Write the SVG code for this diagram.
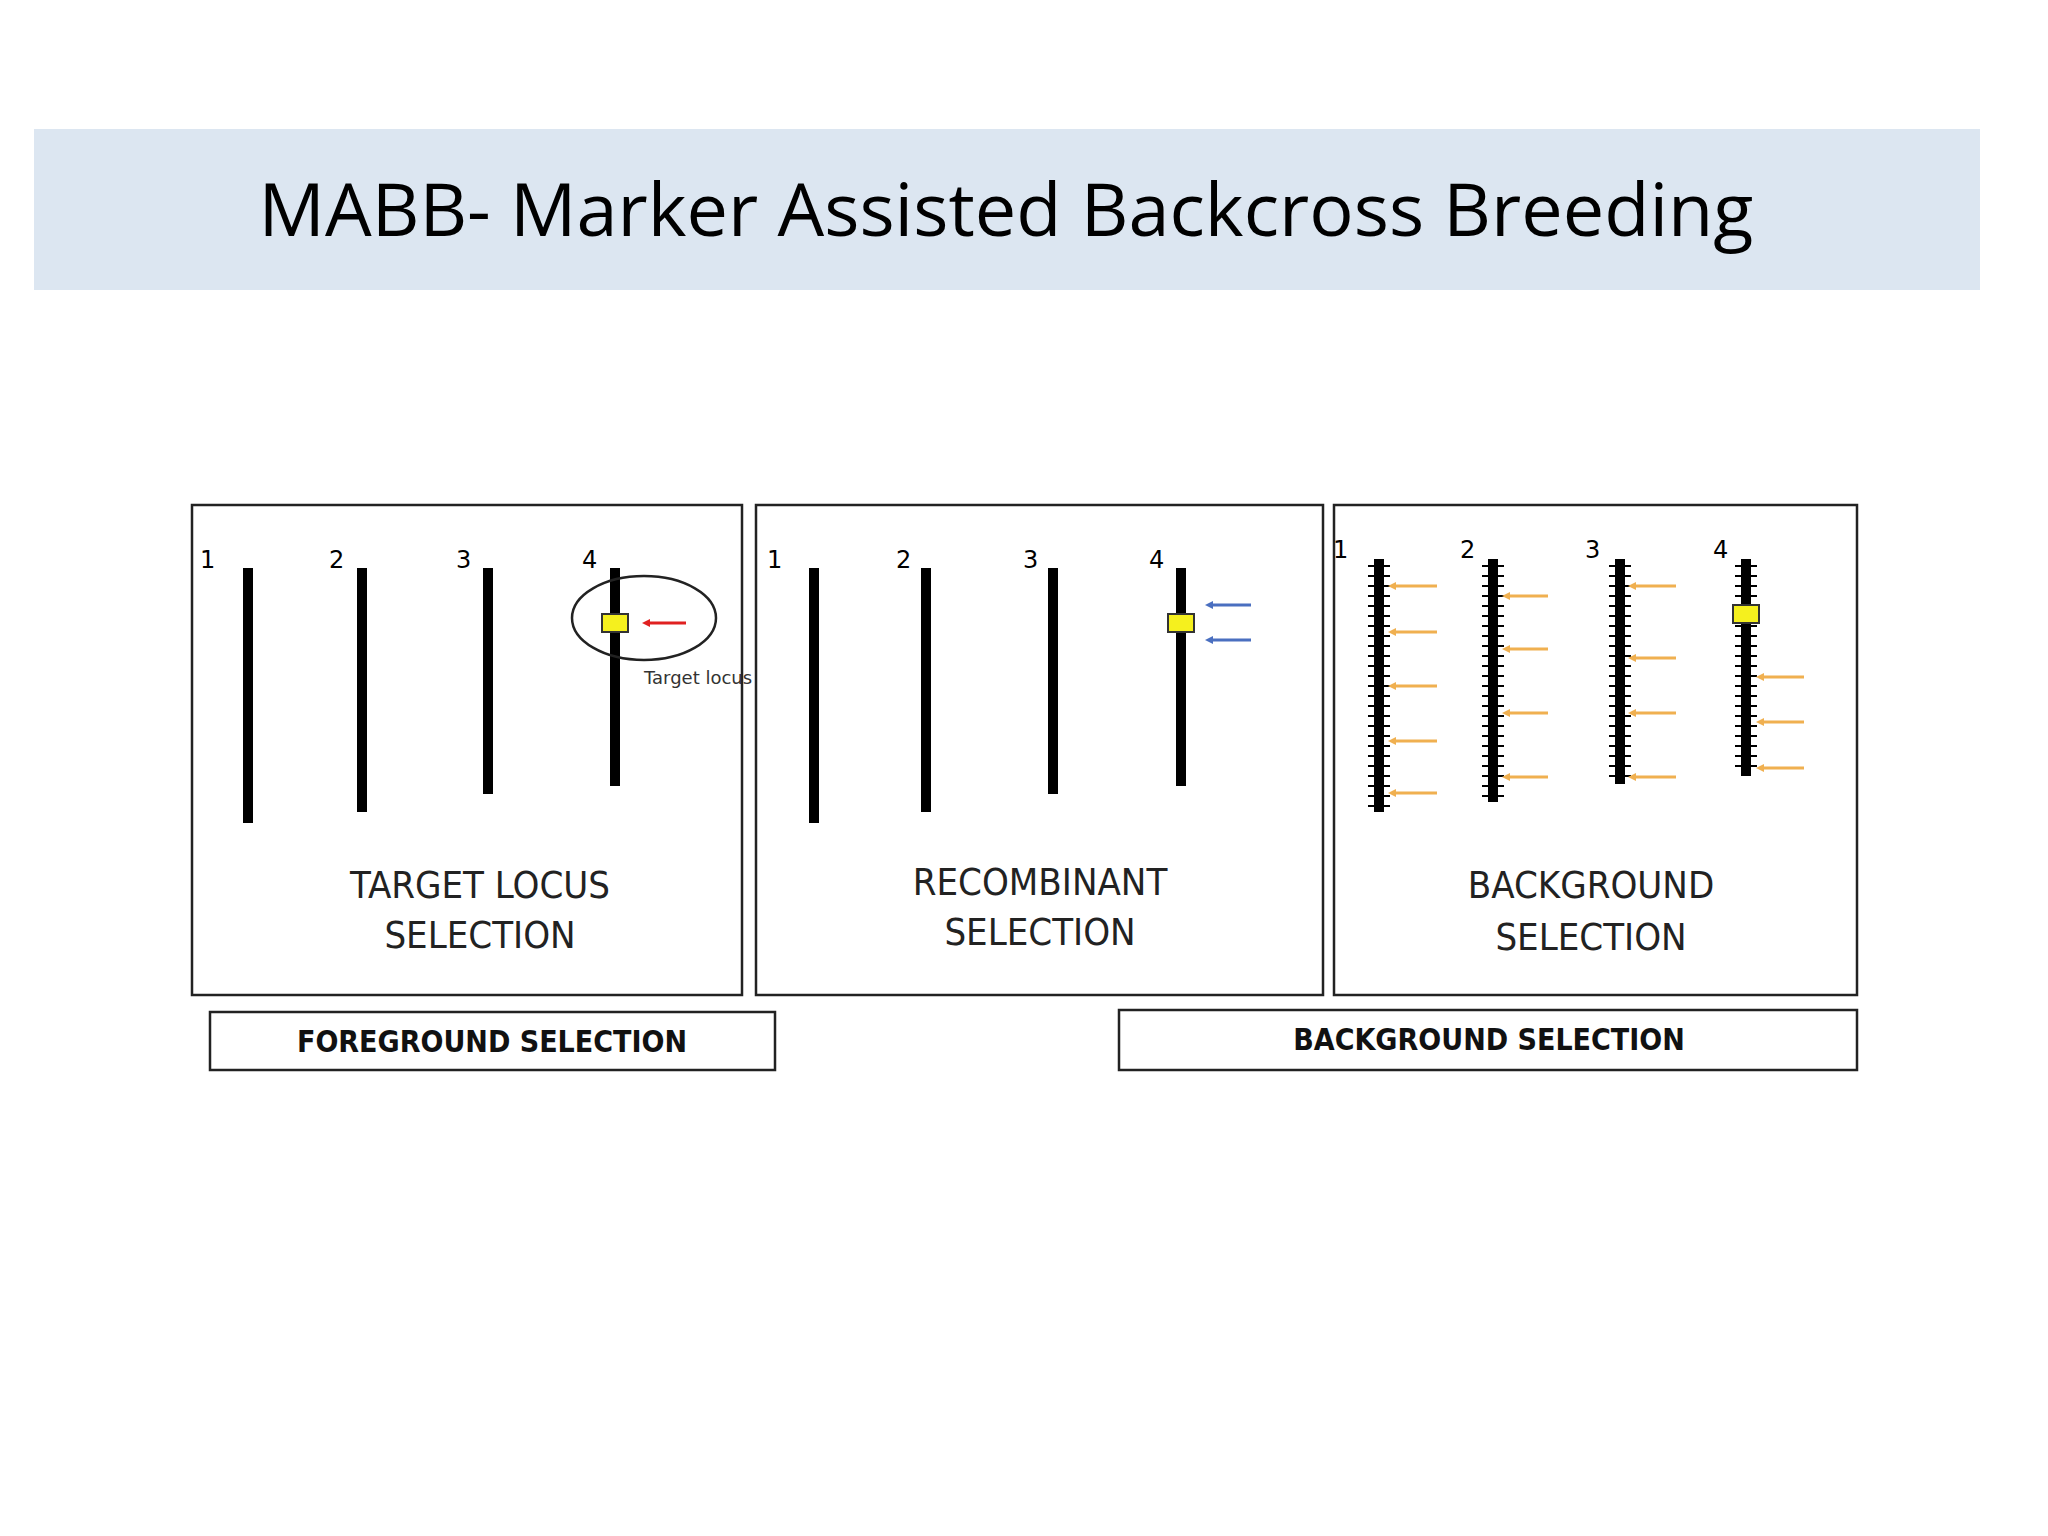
<svg xmlns="http://www.w3.org/2000/svg" width="2048" height="1536" viewBox="0 0 2048 1536">
<defs>
<style>
.box{fill:#fff;stroke:#222;stroke-width:2.5}
.chr{stroke:#000;stroke-width:10}
.tick{stroke:#000;stroke-width:22;stroke-dasharray:2 8}
.num{font-family:"DejaVu Sans",sans-serif;font-size:24px;fill:#000}
.lab{font-family:"DejaVu Sans Condensed","DejaVu Sans",sans-serif;font-size:38px;fill:#222;text-anchor:middle}
.foot{font-family:"DejaVu Sans Condensed","DejaVu Sans",sans-serif;font-size:30px;font-weight:bold;fill:#111;text-anchor:middle}
.yel{fill:#f5f01e;stroke:#333;stroke-width:2}
.red{stroke:#e02020;stroke-width:3;fill:none;marker-start:url(#rh)}
.blue{stroke:#4a6fc0;stroke-width:3;fill:none;marker-start:url(#bh)}
.or{stroke:#f0b050;stroke-width:3;fill:none;marker-start:url(#oh)}
</style>
<marker id="rh" markerWidth="8" markerHeight="8" refX="1" refY="4" orient="auto-start-reverse" markerUnits="userSpaceOnUse"><path d="M8,0L0,4L8,8z" fill="#e02020" transform="rotate(180 4 4)"/></marker>
<marker id="bh" markerWidth="8" markerHeight="8" refX="1" refY="4" orient="auto-start-reverse" markerUnits="userSpaceOnUse"><path d="M8,0L0,4L8,8z" fill="#4a6fc0" transform="rotate(180 4 4)"/></marker>
<marker id="oh" markerWidth="8" markerHeight="8" refX="1" refY="4" orient="auto-start-reverse" markerUnits="userSpaceOnUse"><path d="M8,0L0,4L8,8z" fill="#f0b050" transform="rotate(180 4 4)"/></marker>
</defs>
<rect width="2048" height="1536" fill="#fff"/>
<g id="title">
<rect x="34" y="129" width="1946" height="161" fill="#dce6f1"/>
<text x="1006" y="236" text-anchor="middle" font-family="'Open Sans',sans-serif" font-size="74" fill="#000" textLength="1495" lengthAdjust="spacingAndGlyphs">MABB- Marker Assisted Backcross Breeding</text>
</g>
<g id="panel1">
<rect class="box" x="192" y="505" width="550" height="490"/>
<text class="num" x="200" y="568">1</text><text class="num" x="329" y="568">2</text><text class="num" x="456" y="568">3</text><text class="num" x="582" y="568">4</text>
<line class="chr" x1="248" y1="568" x2="248" y2="823"/><line class="chr" x1="362" y1="568" x2="362" y2="812"/>
<line class="chr" x1="488" y1="568" x2="488" y2="794"/><line class="chr" x1="615" y1="568" x2="615" y2="786"/>
<ellipse cx="644" cy="618" rx="72" ry="42" fill="none" stroke="#222" stroke-width="2.5"/>
<rect class="yel" x="602" y="614" width="26" height="18"/>
<line class="red" x1="649" y1="623" x2="686" y2="623"/>
<text x="644" y="684" font-family="'DejaVu Sans',sans-serif" font-size="18" fill="#333">Target locus</text>
<text class="lab" x="480" y="898">TARGET LOCUS</text><text class="lab" x="480" y="948">SELECTION</text>
</g>
<g id="panel2">
<rect class="box" x="756" y="505" width="567" height="490"/>
<text class="num" x="767" y="568">1</text><text class="num" x="896" y="568">2</text><text class="num" x="1023" y="568">3</text><text class="num" x="1149" y="568">4</text>
<line class="chr" x1="814" y1="568" x2="814" y2="823"/><line class="chr" x1="926" y1="568" x2="926" y2="812"/>
<line class="chr" x1="1053" y1="568" x2="1053" y2="794"/><line class="chr" x1="1181" y1="568" x2="1181" y2="786"/>
<rect class="yel" x="1168" y="614" width="26" height="18"/>
<line class="blue" x1="1212" y1="605" x2="1251" y2="605"/><line class="blue" x1="1212" y1="640" x2="1251" y2="640"/>
<text class="lab" x="1040" y="895">RECOMBINANT</text><text class="lab" x="1040" y="945">SELECTION</text>
</g>
<g id="panel3">
<rect class="box" x="1334" y="505" width="523" height="490"/>
<text class="num" x="1333" y="558">1</text><text class="num" x="1460" y="558">2</text><text class="num" x="1585" y="558">3</text><text class="num" x="1713" y="558">4</text>
<line class="chr" x1="1379" y1="559" x2="1379" y2="812"/><line class="tick" x1="1379" y1="565" x2="1379" y2="808"/>
<line class="chr" x1="1493" y1="559" x2="1493" y2="802"/><line class="tick" x1="1493" y1="565" x2="1493" y2="798"/>
<line class="chr" x1="1620" y1="559" x2="1620" y2="784"/><line class="tick" x1="1620" y1="565" x2="1620" y2="780"/>
<line class="chr" x1="1746" y1="559" x2="1746" y2="776"/><line class="tick" x1="1746" y1="565" x2="1746" y2="772"/>
<rect class="yel" x="1733" y="605" width="26" height="18"/>
<line class="or" x1="1395" y1="586" x2="1437" y2="586"/><line class="or" x1="1395" y1="632" x2="1437" y2="632"/><line class="or" x1="1395" y1="686" x2="1437" y2="686"/><line class="or" x1="1395" y1="741" x2="1437" y2="741"/><line class="or" x1="1395" y1="793" x2="1437" y2="793"/>
<line class="or" x1="1509" y1="596" x2="1548" y2="596"/><line class="or" x1="1509" y1="649" x2="1548" y2="649"/><line class="or" x1="1509" y1="713" x2="1548" y2="713"/><line class="or" x1="1509" y1="777" x2="1548" y2="777"/>
<line class="or" x1="1635" y1="586" x2="1676" y2="586"/><line class="or" x1="1635" y1="658" x2="1676" y2="658"/><line class="or" x1="1635" y1="713" x2="1676" y2="713"/><line class="or" x1="1635" y1="777" x2="1676" y2="777"/>
<line class="or" x1="1763" y1="677" x2="1804" y2="677"/><line class="or" x1="1763" y1="722" x2="1804" y2="722"/><line class="or" x1="1763" y1="768" x2="1804" y2="768"/>
<text class="lab" x="1591" y="898">BACKGROUND</text><text class="lab" x="1591" y="950">SELECTION</text>
</g>
<g id="foreground">
<rect class="box" x="210" y="1012" width="565" height="58"/>
<text class="foot" x="492" y="1052">FOREGROUND SELECTION</text>
</g>
<g id="background">
<rect class="box" x="1119" y="1010" width="738" height="60"/>
<text class="foot" x="1489" y="1050">BACKGROUND SELECTION</text>
</g>
<g id="connectors"/>
</svg>
